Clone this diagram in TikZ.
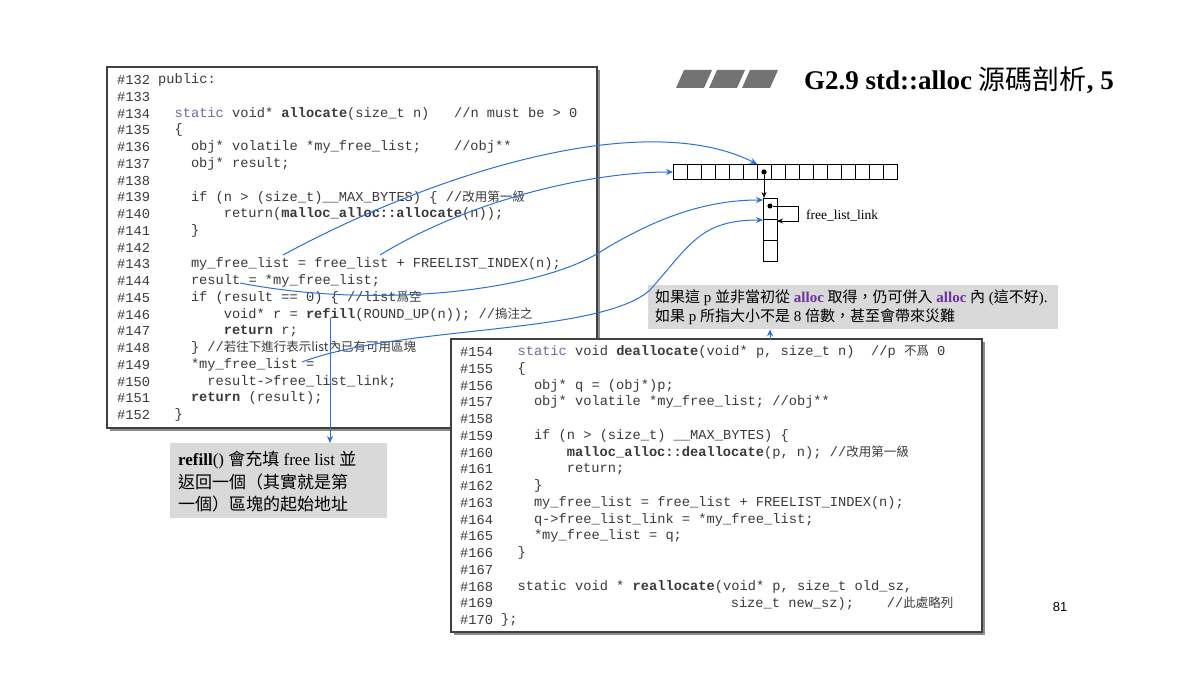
\documentclass[tikz,border=0pt]{standalone}
\usepackage{fontspec}
\setmainfont{Liberation Serif}
\setmonofont{Liberation Mono}
\setsansfont{Liberation Sans}
\newfontfamily\cjk{Noto Sans CJK TC}
\usetikzlibrary{arrows.meta}
\definecolor{codec}{HTML}{3A3A3A}
\definecolor{kwc}{HTML}{6B6B9E}
\definecolor{arrc}{HTML}{2B6FD8}
\definecolor{notec}{HTML}{D9D9D9}
\definecolor{purp}{HTML}{7030A0}
\newcommand\C[1]{{\cjk\fontsize{12.5}{14}\selectfont #1}}
\newcommand\J[1]{{\cjk #1}}
\newcommand\K[1]{\textcolor{kwc}{#1}}
\newcommand\B[1]{\textbf{#1}}
\tikzset{
  code/.style={anchor=west,inner sep=0pt,text=codec,font=\ttfamily\fontsize{13.7}{16}\selectfont},
  box/.style={draw=black!75,line width=1.3pt,fill=white},
  shadowbox/.style={fill=black!45},
  blue/.style={draw=arrc,line width=1pt,-{Stealth[length=7pt,width=6pt]}},
  cell/.style={draw=black,line width=0.8pt},
  note/.style={fill=notec,inner sep=0pt}
}
\newcommand\LA[4]{\node[code] (na#1) at (117,{80+16.75*#2}) {\##1};
  \node[code] (ca#1) at ({117+#3*8.2},{80+16.75*#2}) {#4};}
\newcommand\LB[4]{\node[code] (nb#1) at (460,{352+16.75*#2}) {\##1};
  \node[code] (cb#1) at ({460+#3*8.2},{352+16.75*#2}) {#4};}
\begin{document}
\begin{tikzpicture}[x=1pt,y=-1pt]
\useasboundingbox (0,0) rectangle (1197,692);
% title
\foreach \i in {0,1,2}{
  \fill[black!55] ({684+\i*33},70) -- ({712+\i*33},70) -- ({704+\i*33},88) -- ({676+\i*33},88) -- cycle;}
\node[anchor=west,inner sep=0pt,font=\bfseries\fontsize{27}{30}\selectfont] (title) at (804,80) {G2.9 std::alloc {\cjk\mdseries 源碼剖析}, 5};
% block 1
\fill[shadowbox] (110,70) rectangle (600,431);
\draw[box] (107,67) rectangle (597,428);
\LA{132}{0}{5}{public:}
\LA{133}{1}{5}{}
\LA{134}{2}{7}{\K{static} void* \B{allocate}(size\_t n)~~~//n must be > 0}
\LA{135}{3}{7}{\{}
\LA{136}{4}{9}{obj* volatile *my\_free\_list;~~~~//obj**}
\LA{137}{5}{9}{obj* result;}
\LA{138}{6}{9}{}
\LA{139}{7}{9}{if (n > (size\_t)\_\_MAX\_BYTES) \{ //\C{改用第一級}}
\LA{140}{8}{13}{return(\B{malloc\_alloc::allocate}(n));}
\LA{141}{9}{9}{\}}
\LA{142}{10}{9}{}
\LA{143}{11}{9}{my\_free\_list = free\_list + FREELIST\_INDEX(n);}
\LA{144}{12}{9}{result = *my\_free\_list;}
\LA{145}{13}{9}{if (result == 0) \{ //list\C{爲空}}
\LA{146}{14}{13}{void* r = \B{refill}(ROUND\_UP(n)); //\C{摀注之}}
\LA{147}{15}{13}{\B{return} r;}
\LA{148}{16}{9}{\} //\C{若往下進行表示list內已有可用區塊}}
\LA{149}{17}{9}{*my\_free\_list =}
\LA{150}{18}{11}{result->free\_list\_link;}
\LA{151}{19}{9}{\B{return} (result);}
\LA{152}{20}{7}{\}}
% block 2
\fill[shadowbox] (454,342) rectangle (985,635);
\draw[box] (451,339) rectangle (982,632);
\LB{154}{0}{7}{\K{static} void \B{deallocate}(void* p, size\_t n)~~//p \C{不爲} 0}
\LB{155}{1}{7}{\{}
\LB{156}{2}{9}{obj* q = (obj*)p;}
\LB{157}{3}{9}{obj* volatile *my\_free\_list; //obj**}
\LB{158}{4}{9}{}
\LB{159}{5}{9}{if (n > (size\_t) \_\_MAX\_BYTES) \{}
\LB{160}{6}{13}{\B{malloc\_alloc::deallocate}(p, n); //\C{改用第一級}}
\LB{161}{7}{13}{return;}
\LB{162}{8}{9}{\}}
\LB{163}{9}{9}{my\_free\_list = free\_list + FREELIST\_INDEX(n);}
\LB{164}{10}{9}{q->free\_list\_link = *my\_free\_list;}
\LB{165}{11}{9}{*my\_free\_list = q;}
\LB{166}{12}{7}{\}}
\LB{167}{13}{7}{}
\LB{168}{14}{7}{static void * \B{reallocate}(void* p, size\_t old\_sz,}
\LB{169}{15}{33}{size\_t new\_sz);~~~~//\C{此處略列}}
\LB{170}{16}{5}{\};}
% array
\foreach \i in {0,...,15}{\draw[cell] ({673+\i*14},164) rectangle ({687+\i*14},179);}
\coordinate (arrL) at (673,172);
\coordinate (arrT) at (757,164);
\node[circle,fill,inner sep=1.9pt] (dot1) at (764,172) {};
\foreach \j in {0,1,2}{\draw[cell] (763,{198+\j*21.3}) rectangle (777,{219.3+\j*21.3});}
\coordinate (blkTop) at (764,198);
\coordinate (c1) at (763,200);
\coordinate (c2) at (763,220);
\draw[line width=0.8pt,-{Stealth[length=6pt,width=5pt]}] (dot1) -- (blkTop);
\node[circle,fill,inner sep=1.8pt] (dot2) at (770,206) {};
\draw[line width=0.8pt,-{Stealth[length=6pt,width=5pt]}] (dot2) -- (798,206) -- (798,221) -- (777,221);
\node[anchor=west,inner sep=0pt,font=\fontsize{13.5}{15}\selectfont] (fll) at (806,216) {free\_list\_link};
% note
\node[note,minimum width=410pt,minimum height=44pt,anchor=north west] (note) at (648,285) {};
\node[anchor=north west,inner sep=0pt,align=left,font=\fontsize{15}{19}\selectfont] (notet) at (655,290)
  {\J{如果這} p \J{並非當初從} \textcolor{purp}{\B{alloc}} \J{取得，仍可併入} \textcolor{purp}{\B{alloc}} \J{內} (\J{這不好}).\\
   \J{如果} p \J{所指大小不是} 8 \J{倍數，甚至會帶來災難}};
% refill note
\node[note,minimum width=217pt,minimum height=75pt,anchor=north west] (refn) at (170,443) {};
\node[anchor=north west,inner sep=0pt,align=left,font=\fontsize{17}{22.5}\selectfont] (reft) at (178,451)
  {\B{refill}() {\cjk 會充填} free list {\cjk 並}\\ {\cjk 返回一個（其實就是第}\\ {\cjk 一個）區塊的起始地址}};
% blue connectors
\coordinate (s1) at (283,255);
\coordinate (s2) at (380,255);
\coordinate (s3) at (240,283);
\coordinate (s4) at (302,362);
\coordinate (s5) at (330,318);
\draw[blue] (s1) .. controls (450,165) and (650,110) .. (arrT);
\draw[blue] (s2) .. controls (470,200) and (590,172) .. (arrL);
\draw[blue] (s3) .. controls (380,310) and (540,290) .. (600,252) .. controls (660,215) and (710,200) .. (c1);
\draw[blue] (s4) .. controls (400,325) and (600,335) .. (650,290) .. controls (690,245) and (700,220) .. (c2);
\draw[blue] (s5) -- (refn.north -| s5);
\draw[blue] (770,340) -- (note.south -| 770,0);
\node[font=\sffamily\fontsize{13}{15}\selectfont,inner sep=0pt] (pg) at (1060,607) {81};
\end{tikzpicture}
\end{document}
